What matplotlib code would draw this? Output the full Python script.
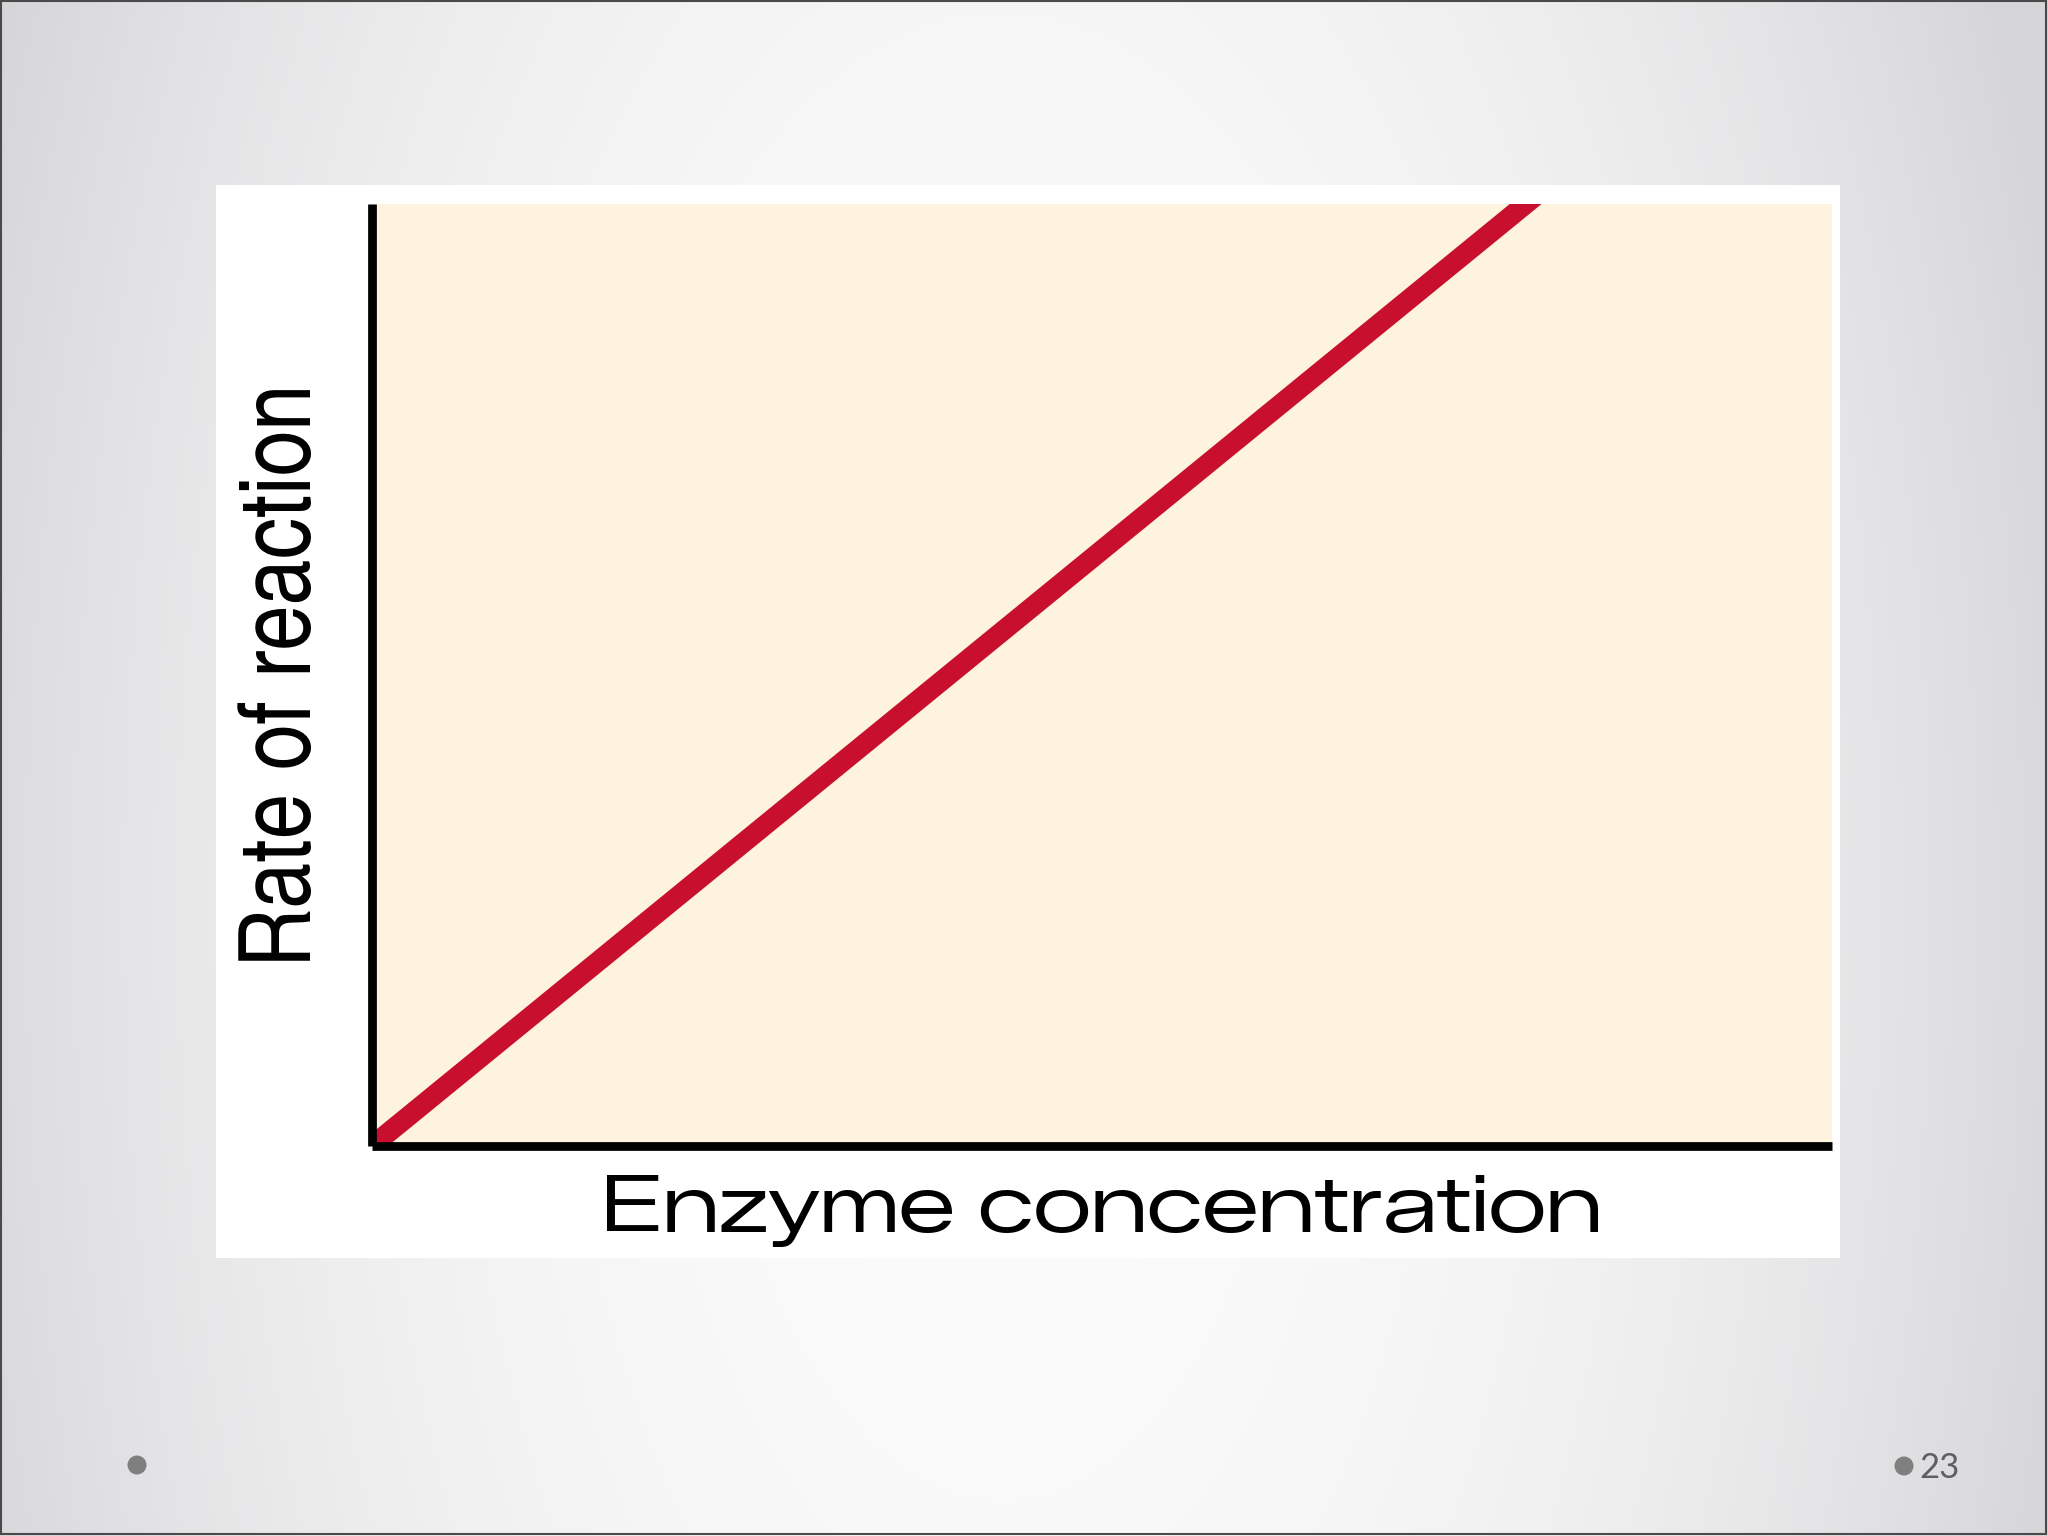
import numpy as np
import matplotlib
matplotlib.use("Agg")
import matplotlib.pyplot as plt
from matplotlib.patches import Rectangle, Circle

# ---- data ----
enzyme_concentration = [0.0, 8.06]
rate_of_reaction = [0.0, 10.2]
x_limits = (0, 10)
y_limits = (0, 10)
x_label = "Enzyme concentration"
y_label = "Rate of reaction"
page_number = "23"

W, H = 2048, 1536
fig = plt.figure(figsize=(W / 100, H / 100), dpi=100)

# ---- slide background (radial grey gradient) ----
bg = fig.add_axes([0, 0, 1, 1], zorder=0)
yy, xx = np.mgrid[0:H:4, 0:W:4]
r = np.sqrt(((xx - 1000) / 1000.0) ** 2 + ((yy - 900) / 2000.0) ** 2)
v = np.clip(0.985 - 0.12 * r ** 2.2, 0.84, 0.99)
img = np.dstack([v, v, np.clip(v + 0.012 * (0.985 - v) / 0.145, 0, 1)])
bg.imshow(img, extent=(0, W, H, 0), aspect="auto", interpolation="bilinear")
bg.set_xlim(0, W)
bg.set_ylim(H, 0)
bg.axis("off")
bg.add_patch(Rectangle((216, 185), 1624, 1073, facecolor="white", edgecolor="none"))
bg.add_patch(Rectangle((1, 1), W - 3, H - 3, facecolor="none", edgecolor="#4a4a4a", linewidth=1.5))
bg.add_patch(Circle((137, 1465), 9.5, facecolor="#7f7f7f", edgecolor="none"))
bg.add_patch(Circle((1904, 1466), 9.5, facecolor="#7f7f7f", edgecolor="none"))
bg.text(1919, 1478, page_number, fontsize=25, color="#5e5e64", family=["Lato", "DejaVu Sans"],
        ha="left", va="baseline")

# ---- chart ----
ax = fig.add_axes([372 / W, 1 - 1146 / H, (1832 - 372) / W, (1146 - 204) / H], zorder=2)
ax.set_facecolor("#FDF3DE")
ax.plot(enzyme_concentration, rate_of_reaction, color="#C8102E", linewidth=14.5,
        solid_capstyle="butt", clip_on=True)
ax.set_xlim(*x_limits)
ax.set_ylim(*y_limits)
ax.set_xticks([])
ax.set_yticks([])
for s in ("top", "right"):
    ax.spines[s].set_visible(False)
for s in ("left", "bottom"):
    ax.spines[s].set_linewidth(6.3)
    ax.spines[s].set_color("black")
    ax.spines[s].set_capstyle("butt")
    ax.spines[s].set_zorder(5)

fig.text(311 / W, 1 - 675 / H, y_label, rotation=90, rotation_mode="anchor",
         ha="center", va="baseline", fontsize=72.5,
         family=["TeX Gyre Heros Cn", "Liberation Sans", "DejaVu Sans"], color="black")
fig.text(1102 / W, 1 - 1232 / H, x_label, ha="center", va="baseline",
         fontsize=57.4, family=["Zalando Sans Expanded", "Liberation Sans", "DejaVu Sans"],
         color="black")

fig.savefig("out.png", dpi=100)
